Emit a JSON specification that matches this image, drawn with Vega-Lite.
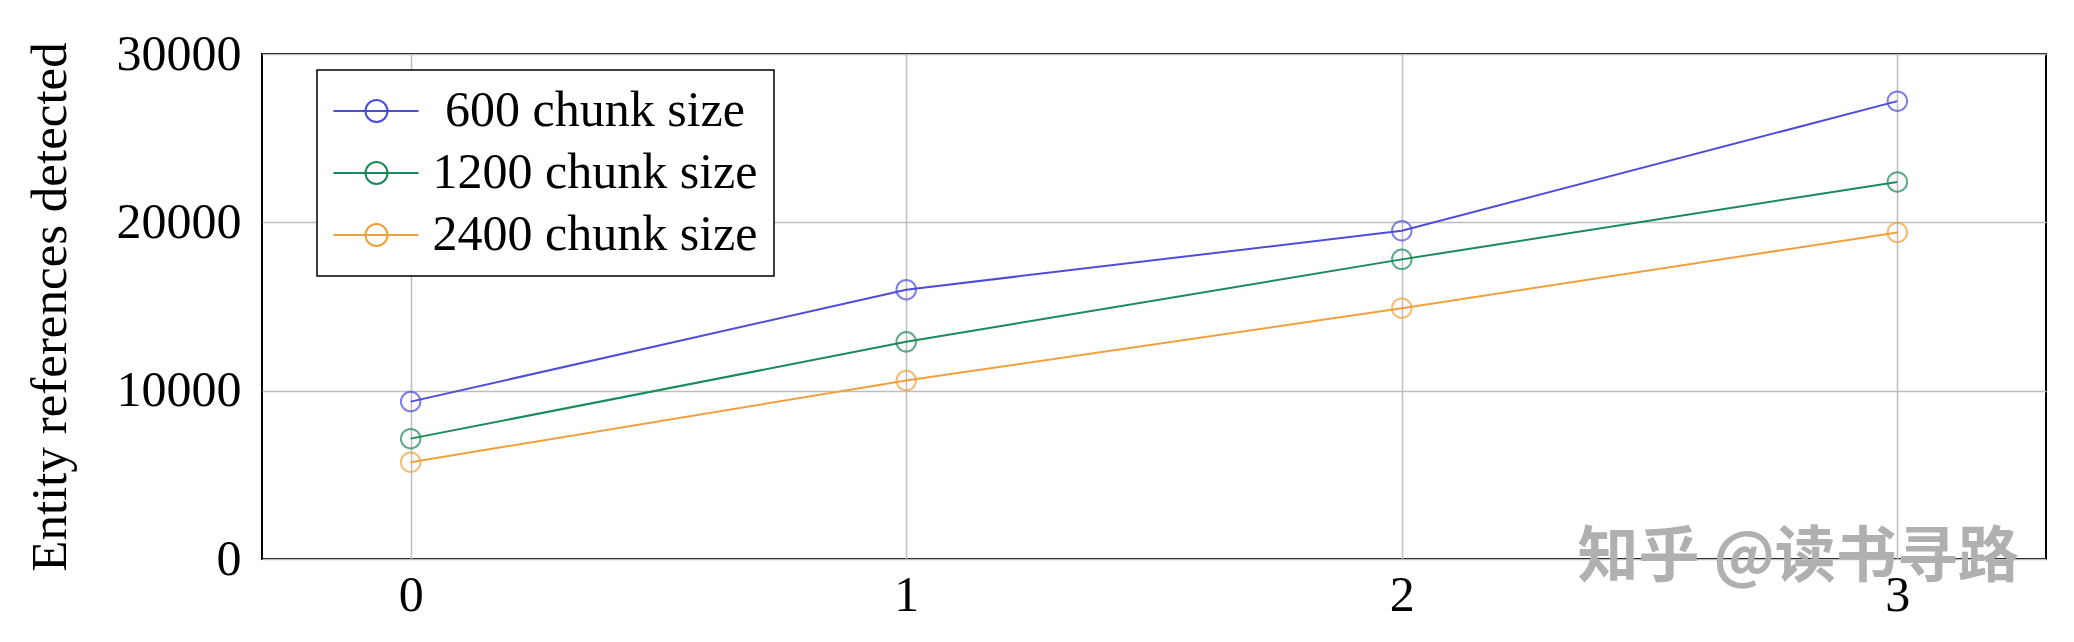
{
  "$schema": "https://vega.github.io/schema/vega-lite/v6.json",
  "width": 1784,
  "height": 505,
  "autosize": "none",
  "padding": {"left": 262, "top": 54, "right": 28, "bottom": 83},
  "background": "white",
  "data": {
    "values": [
      {"x": 0, "series": "600 chunk size", "value": 9350},
      {"x": 1, "series": "600 chunk size", "value": 16000},
      {"x": 2, "series": "600 chunk size", "value": 19500},
      {"x": 3, "series": "600 chunk size", "value": 27200},
      {"x": 0, "series": "1200 chunk size", "value": 7150},
      {"x": 1, "series": "1200 chunk size", "value": 12900},
      {"x": 2, "series": "1200 chunk size", "value": 17800},
      {"x": 3, "series": "1200 chunk size", "value": 22400},
      {"x": 0, "series": "2400 chunk size", "value": 5750},
      {"x": 1, "series": "2400 chunk size", "value": 10600},
      {"x": 2, "series": "2400 chunk size", "value": 14900},
      {"x": 3, "series": "2400 chunk size", "value": 19400}
    ]
  },
  "encoding": {
    "x": {
      "field": "x",
      "type": "quantitative",
      "scale": {"domain": [-0.3, 3.3], "nice": false, "zero": false},
      "axis": {"values": [0, 1, 2, 3], "format": "d", "title": null, "labelPadding": 11}
    },
    "y": {
      "field": "value",
      "type": "quantitative",
      "scale": {"domain": [0, 30000], "nice": false},
      "axis": {
        "values": [0, 10000, 20000, 30000],
        "format": "d",
        "title": "Entity references detected",
        "titleFontSize": 51,
        "labelPadding": 21,
        "titlePadding": 40
      }
    }
  },
  "layer": [
    {
      "mark": {"type": "line", "strokeWidth": 2},
      "encoding": {
        "color": {
          "field": "series",
          "type": "nominal",
          "scale": {
            "domain": ["600 chunk size", "1200 chunk size", "2400 chunk size"],
            "range": ["#4d4dd9", "#1b8a5a", "#f0a03c"]
          },
          "legend": {
            "title": null,
            "orient": "none",
            "legendX": 55,
            "legendY": 16,
            "symbolType": "M-2.23,0L5.5,0M2.68,0A1,1,0,1,1,0.68,0A1,1,0,1,1,2.68,0",
            "symbolSize": 484,
            "symbolStrokeWidth": 2,
            "symbolFillColor": "transparent",
            "labelAlign": "center",
            "labelOffset": 212,
            "padding": 16,
            "rowPadding": 12,
            "strokeColor": "black",
            "fillColor": "white"
          }
        }
      }
    },
    {
      "mark": {"type": "point", "shape": "circle", "filled": false, "size": 380, "strokeWidth": 2},
      "encoding": {
        "color": {"field": "series", "type": "nominal", "legend": null}
      }
    },
    {
      "data": {"values": [{"x": 2.8, "value": 0, "label": "知乎 @读书寻路"}]},
      "mark": {
        "type": "text",
        "font": "Noto Sans CJK SC",
        "fontSize": 61,
        "fontWeight": "bold",
        "color": "#b0b0b0",
        "baseline": "middle",
        "align": "center"
      },
      "encoding": {"text": {"field": "label"}}
    }
  ],
  "config": {
    "font": "Liberation Serif",
    "view": {"stroke": "black", "strokeWidth": 2},
    "axis": {
      "labelFontSize": 50,
      "labelColor": "black",
      "titleFontSize": 50,
      "titleFontWeight": "normal",
      "titleColor": "black",
      "grid": true,
      "gridColor": "#bdbdbd",
      "gridWidth": 1.5,
      "ticks": false,
      "domain": false
    },
    "legend": {
      "labelFontSize": 50,
      "labelColor": "black",
      "labelLimit": 0,
      "strokeWidth": 1.5
    }
  }
}
